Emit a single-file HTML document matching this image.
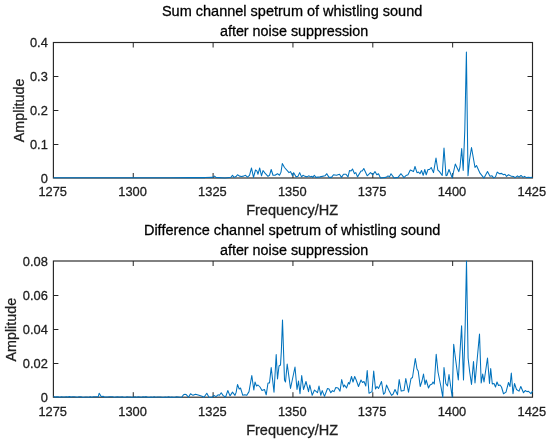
<!DOCTYPE html>
<html><head><meta charset="utf-8"><title>Spectrum</title>
<style>
html,body{margin:0;padding:0;background:#fff;}
svg{display:block;}
text{font-family:"Liberation Sans",sans-serif;}
.tk{font-size:12.85px;fill:#202020;stroke:#202020;stroke-width:0.28px;}
.lb{font-size:14.5px;fill:#202020;stroke:#202020;stroke-width:0.28px;}
.tt{font-size:14.5px;fill:#000;stroke:#000;stroke-width:0.28px;}
</style></head>
<body>
<svg width="550" height="441" viewBox="0 0 550 441">
<rect width="550" height="441" fill="#ffffff"/>
<text class="tt" x="292.1" y="16" text-anchor="middle">Sum channel spetrum of whistling sound</text>
<text class="tt" style="font-size:14.35px" x="294.1" y="36" text-anchor="middle">after noise suppression</text>
<rect x="53.4" y="42.5" width="479.1" height="135.5" fill="none" stroke="#262626" stroke-width="1.15"/>
<text class="tk" x="52.70" y="196.20" text-anchor="middle">1275</text>
<line x1="133.25" y1="178.0" x2="133.25" y2="173.0" stroke="#262626" stroke-width="1"/>
<line x1="133.25" y1="42.5" x2="133.25" y2="47.5" stroke="#262626" stroke-width="1"/>
<text class="tk" x="132.55" y="196.20" text-anchor="middle">1300</text>
<line x1="213.10" y1="178.0" x2="213.10" y2="173.0" stroke="#262626" stroke-width="1"/>
<line x1="213.10" y1="42.5" x2="213.10" y2="47.5" stroke="#262626" stroke-width="1"/>
<text class="tk" x="212.40" y="196.20" text-anchor="middle">1325</text>
<line x1="292.95" y1="178.0" x2="292.95" y2="173.0" stroke="#262626" stroke-width="1"/>
<line x1="292.95" y1="42.5" x2="292.95" y2="47.5" stroke="#262626" stroke-width="1"/>
<text class="tk" x="292.25" y="196.20" text-anchor="middle">1350</text>
<line x1="372.80" y1="178.0" x2="372.80" y2="173.0" stroke="#262626" stroke-width="1"/>
<line x1="372.80" y1="42.5" x2="372.80" y2="47.5" stroke="#262626" stroke-width="1"/>
<text class="tk" x="372.10" y="196.20" text-anchor="middle">1375</text>
<line x1="452.65" y1="178.0" x2="452.65" y2="173.0" stroke="#262626" stroke-width="1"/>
<line x1="452.65" y1="42.5" x2="452.65" y2="47.5" stroke="#262626" stroke-width="1"/>
<text class="tk" x="451.95" y="196.20" text-anchor="middle">1400</text>
<text class="tk" x="531.80" y="196.20" text-anchor="middle">1425</text>
<text class="tk" x="47.80" y="182.75" text-anchor="end">0</text>
<line x1="53.4" y1="144.50" x2="58.4" y2="144.50" stroke="#262626" stroke-width="1"/>
<line x1="532.5" y1="144.50" x2="527.5" y2="144.50" stroke="#262626" stroke-width="1"/>
<text class="tk" x="47.80" y="148.88" text-anchor="end">0.1</text>
<line x1="53.4" y1="110.50" x2="58.4" y2="110.50" stroke="#262626" stroke-width="1"/>
<line x1="532.5" y1="110.50" x2="527.5" y2="110.50" stroke="#262626" stroke-width="1"/>
<text class="tk" x="47.80" y="115.00" text-anchor="end">0.2</text>
<line x1="53.4" y1="76.50" x2="58.4" y2="76.50" stroke="#262626" stroke-width="1"/>
<line x1="532.5" y1="76.50" x2="527.5" y2="76.50" stroke="#262626" stroke-width="1"/>
<text class="tk" x="47.80" y="81.12" text-anchor="end">0.3</text>
<text class="tk" x="47.80" y="47.25" text-anchor="end">0.4</text>
<polyline fill="none" stroke="#0072BD" stroke-width="1.05" stroke-linejoin="round" points="53.5,177.71 100.0,177.82 133.0,177.71 170.0,177.82 190.0,177.50 205.0,177.60 212.5,177.39 214.5,176.13 216.0,177.39 225.0,177.92 231.0,177.18 232.5,175.28 234.0,177.39 236.0,176.55 237.5,174.75 239.5,176.13 241.5,176.55 243.5,176.13 245.5,175.28 247.5,177.18 249.5,175.28 251.5,168.00 253.5,177.39 255.5,170.00 257.0,171.06 258.0,174.22 259.7,168.00 261.5,175.81 263.0,170.53 265.0,173.17 268.0,176.34 269.5,175.28 271.2,169.50 273.0,175.28 275.0,175.28 277.5,173.70 279.5,175.28 281.0,172.11 282.3,163.50 284.5,167.50 289.0,172.64 290.5,171.58 292.5,175.81 293.7,172.64 296.0,176.87 298.0,176.34 299.7,172.64 301.5,176.87 303.0,175.28 305.0,176.34 307.0,176.87 309.0,175.81 310.5,176.87 312.0,176.34 312.8,177.39 314.3,175.28 316.0,177.39 320.0,176.87 325.0,175.81 326.8,173.70 329.0,177.39 331.5,177.39 333.5,174.75 336.5,175.28 339.5,174.22 341.5,177.39 343.5,174.22 346.0,174.22 348.0,176.87 349.5,170.53 351.0,171.06 352.5,169.00 354.5,173.70 355.8,172.64 357.5,176.87 361.0,171.06 362.2,171.06 363.8,168.50 367.2,175.81 370.5,172.64 372.8,174.75 375.0,171.58 376.8,174.75 378.5,173.70 380.5,177.92 386.0,177.39 388.0,175.81 389.5,176.87 391.0,173.70 394.0,177.92 398.0,177.39 401.0,173.70 404.0,177.60 406.0,175.49 408.0,174.75 410.3,170.00 413.5,171.58 415.0,166.50 417.0,172.64 418.5,172.11 420.0,173.70 421.5,170.53 423.2,175.28 424.8,169.50 426.2,174.75 428.0,169.50 429.5,169.50 431.2,167.50 433.5,172.64 436.0,158.00 437.8,170.00 439.5,171.58 442.2,175.49 444.0,148.00 446.0,175.81 447.0,175.28 449.0,169.50 452.2,177.92 455.3,164.00 458.8,171.58 460.0,167.00 461.7,148.50 463.2,170.53 464.8,130.00 466.4,52.00 468.0,175.81 469.5,160.00 471.5,147.50 475.0,167.50 476.5,165.50 480.0,173.17 484.0,178.10 487.5,171.58 490.0,176.34 492.0,175.81 493.7,177.92 495.5,176.87 497.2,172.11 499.5,173.70 501.5,173.38 503.5,174.75 505.0,174.22 506.5,176.34 508.5,174.75 511.5,176.34 513.5,176.55 515.0,177.60 517.5,175.81 519.0,177.18 521.0,175.49 523.0,177.39 524.5,176.34 526.5,177.60 528.5,177.18 530.0,177.60 532.5,177.39"/>
<text class="lb" x="292.1" y="215.4" text-anchor="middle">Frequency/HZ</text>
<text class="lb" style="font-size:14.3px" transform="translate(24.1,110.4) rotate(-90)" text-anchor="middle">Amplitude</text>
<text class="tt" x="292.1" y="234.65" text-anchor="middle">Difference channel spetrum of whistling sound</text>
<text class="tt" style="font-size:14.35px" x="294.1" y="254.5" text-anchor="middle">after noise suppression</text>
<rect x="53.4" y="261.0" width="479.1" height="136.2" fill="none" stroke="#262626" stroke-width="1.15"/>
<text class="tk" x="52.70" y="415.90" text-anchor="middle">1275</text>
<line x1="133.25" y1="397.2" x2="133.25" y2="392.2" stroke="#262626" stroke-width="1"/>
<line x1="133.25" y1="261.0" x2="133.25" y2="266.0" stroke="#262626" stroke-width="1"/>
<text class="tk" x="132.55" y="415.90" text-anchor="middle">1300</text>
<line x1="213.10" y1="397.2" x2="213.10" y2="392.2" stroke="#262626" stroke-width="1"/>
<line x1="213.10" y1="261.0" x2="213.10" y2="266.0" stroke="#262626" stroke-width="1"/>
<text class="tk" x="212.40" y="415.90" text-anchor="middle">1325</text>
<line x1="292.95" y1="397.2" x2="292.95" y2="392.2" stroke="#262626" stroke-width="1"/>
<line x1="292.95" y1="261.0" x2="292.95" y2="266.0" stroke="#262626" stroke-width="1"/>
<text class="tk" x="292.25" y="415.90" text-anchor="middle">1350</text>
<line x1="372.80" y1="397.2" x2="372.80" y2="392.2" stroke="#262626" stroke-width="1"/>
<line x1="372.80" y1="261.0" x2="372.80" y2="266.0" stroke="#262626" stroke-width="1"/>
<text class="tk" x="372.10" y="415.90" text-anchor="middle">1375</text>
<line x1="452.65" y1="397.2" x2="452.65" y2="392.2" stroke="#262626" stroke-width="1"/>
<line x1="452.65" y1="261.0" x2="452.65" y2="266.0" stroke="#262626" stroke-width="1"/>
<text class="tk" x="451.95" y="415.90" text-anchor="middle">1400</text>
<text class="tk" x="531.80" y="415.90" text-anchor="middle">1425</text>
<text class="tk" x="47.80" y="402.35" text-anchor="end">0</text>
<line x1="53.4" y1="363.50" x2="58.4" y2="363.50" stroke="#262626" stroke-width="1"/>
<line x1="532.5" y1="363.50" x2="527.5" y2="363.50" stroke="#262626" stroke-width="1"/>
<text class="tk" x="47.80" y="368.30" text-anchor="end">0.02</text>
<line x1="53.4" y1="329.50" x2="58.4" y2="329.50" stroke="#262626" stroke-width="1"/>
<line x1="532.5" y1="329.50" x2="527.5" y2="329.50" stroke="#262626" stroke-width="1"/>
<text class="tk" x="47.80" y="334.25" text-anchor="end">0.04</text>
<line x1="53.4" y1="295.50" x2="58.4" y2="295.50" stroke="#262626" stroke-width="1"/>
<line x1="532.5" y1="295.50" x2="527.5" y2="295.50" stroke="#262626" stroke-width="1"/>
<text class="tk" x="47.80" y="300.20" text-anchor="end">0.06</text>
<text class="tk" x="47.80" y="266.15" text-anchor="end">0.08</text>
<polyline fill="none" stroke="#0072BD" stroke-width="1.05" stroke-linejoin="round" points="53.5,396.17 55.0,397.12 56.6,396.87 58.2,396.72 59.8,397.14 61.4,396.66 63.0,397.05 64.6,396.90 66.2,396.65 67.8,397.03 69.4,396.63 71.0,396.96 72.6,396.66 74.2,396.67 75.8,396.95 77.4,397.29 79.0,396.70 80.6,396.78 82.2,397.12 83.8,397.30 85.4,397.08 87.0,396.93 88.6,397.30 90.2,396.64 91.8,397.30 93.4,396.84 95.0,396.72 96.6,396.69 98.2,396.86 99.2,393.21 101.4,396.74 103.0,396.17 104.6,397.13 106.2,396.91 107.8,397.06 109.4,396.65 111.0,396.65 112.6,396.76 114.2,397.16 115.8,396.95 117.4,396.86 119.0,397.09 120.6,396.97 122.2,396.85 123.8,397.27 125.4,397.19 127.0,396.80 128.6,397.08 130.2,397.04 131.8,397.30 133.4,397.21 135.0,396.84 136.6,397.30 138.2,396.69 139.8,396.94 141.4,397.24 143.0,396.72 144.6,397.01 146.2,396.63 147.8,397.15 149.4,397.24 151.0,397.08 152.6,397.30 154.2,396.86 155.8,397.19 157.4,397.10 159.0,397.08 160.6,396.97 162.2,397.30 163.8,397.30 165.4,397.00 167.0,397.15 168.6,396.65 170.2,397.19 171.8,397.14 173.4,397.30 175.0,397.29 176.6,396.84 178.2,396.92 179.8,397.15 182.0,396.91 183.5,394.80 185.0,394.27 186.5,394.80 188.5,397.23 190.5,393.74 193.0,395.33 195.5,394.27 199.0,395.33 202.0,396.17 204.0,397.30 206.8,393.21 209.0,397.23 212.0,397.30 214.0,395.33 216.0,396.59 218.0,394.80 219.5,395.33 221.2,392.69 223.0,395.33 225.5,397.23 227.8,390.57 230.0,395.85 232.5,392.16 235.0,395.33 236.2,392.16 237.5,384.50 239.2,389.00 240.5,388.00 242.8,395.33 244.8,394.80 246.8,395.33 249.0,391.63 251.8,375.50 253.8,390.05 255.0,382.00 256.5,386.00 258.0,385.00 260.0,387.00 262.0,390.57 264.5,389.52 266.2,394.80 268.0,383.00 269.5,383.00 271.2,367.50 274.0,392.16 276.2,354.50 277.5,379.00 279.0,366.00 280.5,365.00 281.3,352.00 282.5,320.00 284.5,380.00 285.5,382.00 287.2,364.00 290.5,388.50 295.0,367.00 297.0,389.52 298.5,381.00 300.0,393.74 301.7,375.50 303.5,389.52 306.0,381.50 308.5,391.63 309.8,385.00 312.2,395.33 314.5,390.05 317.5,392.69 319.0,386.00 320.8,395.33 322.2,390.57 324.5,396.38 327.5,388.50 329.0,389.00 330.8,392.69 332.5,390.57 334.0,391.63 335.8,387.50 338.0,388.00 340.0,391.10 341.7,379.50 343.5,387.00 344.5,385.00 346.5,388.00 348.5,382.50 349.5,384.00 351.5,376.50 353.0,382.00 354.7,376.50 356.2,380.00 358.5,386.50 361.0,380.00 362.5,382.50 364.0,381.50 365.8,386.00 367.2,370.50 369.0,393.21 372.0,391.63 373.7,371.00 375.5,389.00 377.0,386.50 378.5,388.50 381.5,381.50 383.5,394.27 385.0,392.69 386.5,385.00 389.0,390.57 391.5,395.33 393.0,394.27 395.0,389.52 397.5,394.80 399.2,379.50 401.2,391.10 404.0,390.57 405.8,378.50 408.5,392.16 411.0,378.50 412.5,377.50 415.3,358.50 417.0,369.00 418.2,371.00 420.2,386.50 422.0,381.00 423.5,374.00 425.0,384.50 426.2,380.00 428.5,388.00 430.0,385.00 432.0,384.00 433.0,382.00 434.3,384.00 436.2,354.20 438.0,372.00 441.0,387.00 442.8,397.30 444.0,367.50 445.8,383.50 447.5,386.00 449.0,374.50 452.2,397.30 453.7,344.30 455.3,357.00 458.3,380.00 461.6,325.80 463.5,380.00 465.2,325.00 466.5,261.00 468.1,358.00 469.7,372.00 471.5,384.50 473.5,361.50 475.0,383.00 479.5,334.00 481.2,383.00 482.7,374.00 484.0,382.00 487.5,358.00 489.5,383.50 490.7,368.50 492.3,384.00 494.0,383.50 495.5,387.00 497.0,382.00 498.5,385.50 500.0,385.00 501.5,387.00 503.5,393.74 506.0,392.16 508.5,382.50 510.0,386.50 511.3,373.00 513.0,393.74 514.5,383.50 516.5,389.52 519.0,391.10 520.8,386.50 523.5,392.69 525.2,390.57 527.0,391.63 528.5,391.31 531.0,393.74 532.5,391.10"/>
<text class="lb" x="292.1" y="435.0" text-anchor="middle">Frequency/HZ</text>
<text class="lb" style="font-size:14.3px" transform="translate(15.5,329.7) rotate(-90)" text-anchor="middle">Amplitude</text>
</svg>
</body></html>
